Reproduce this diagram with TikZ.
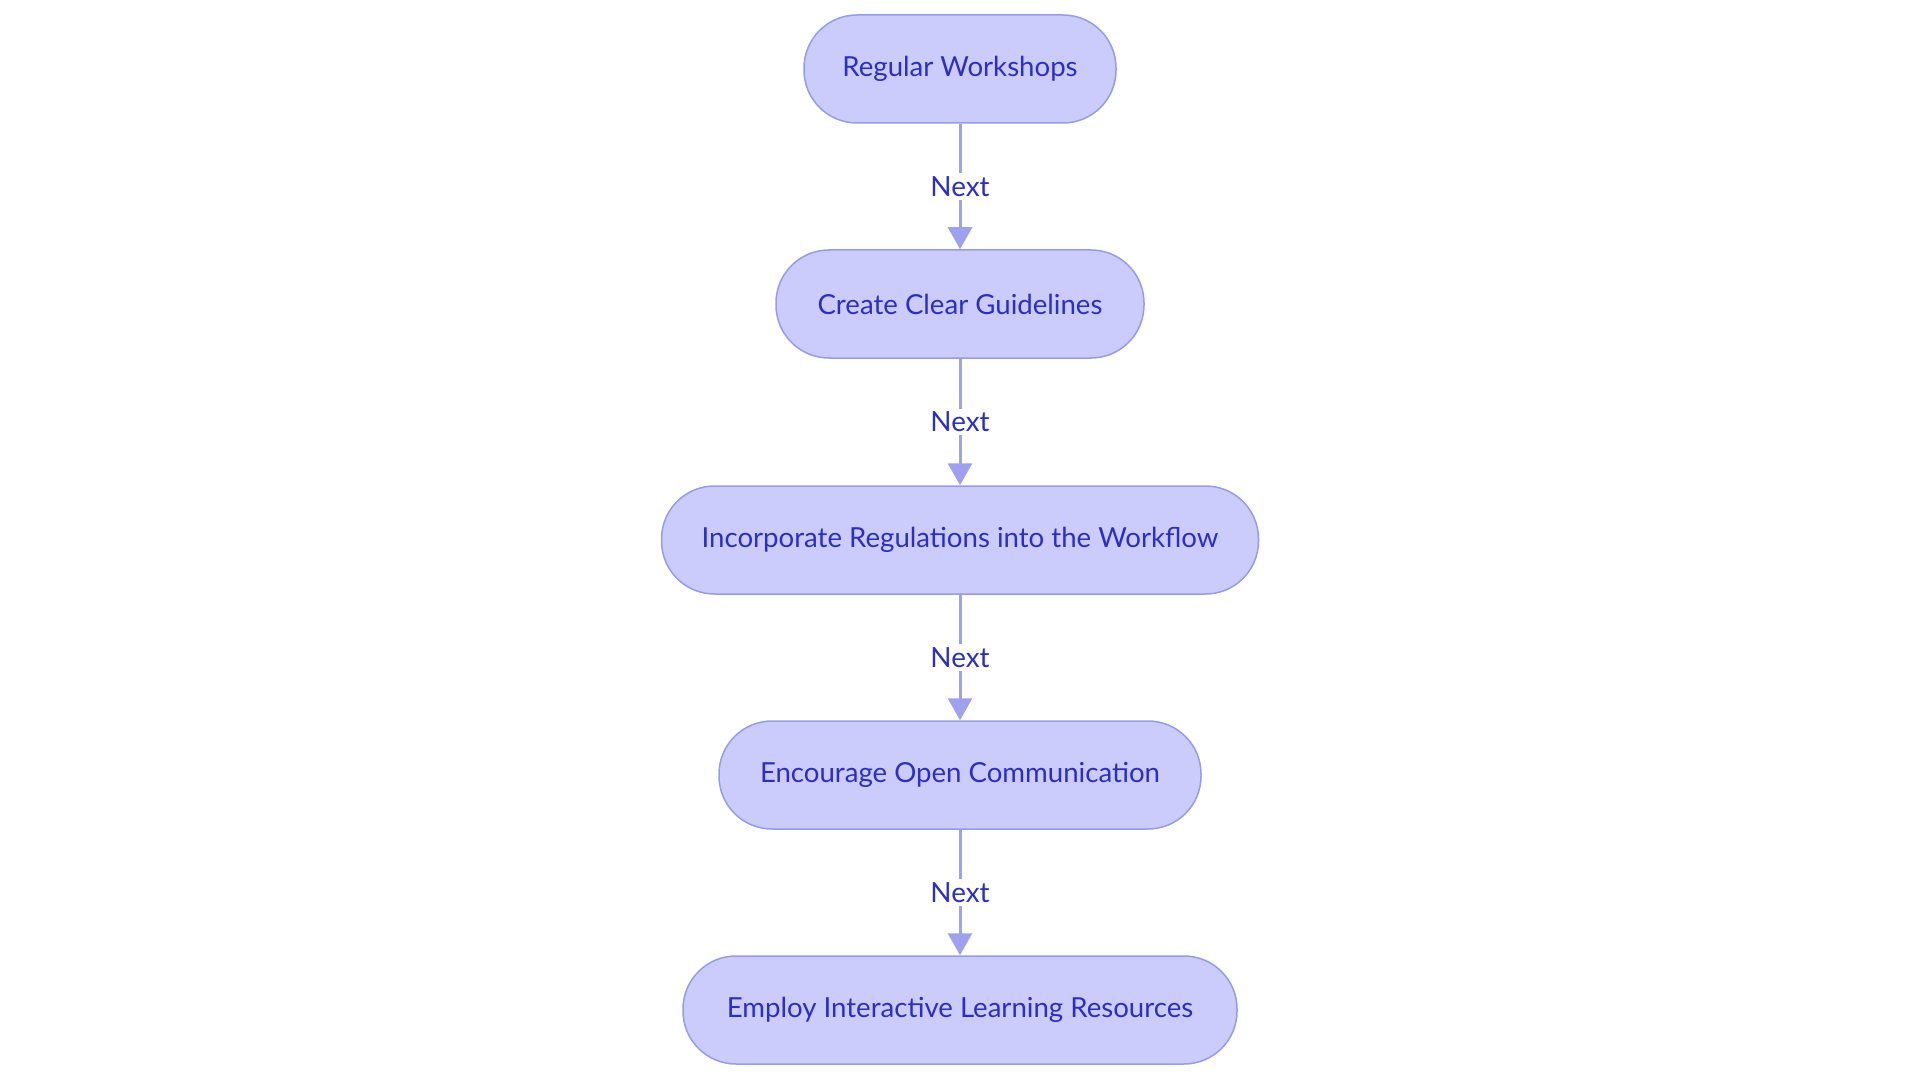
\documentclass[tikz,border=0pt]{standalone}
\usepackage{fontspec}
\setmainfont{Lato}
\usetikzlibrary{arrows.meta}
\definecolor{boxfill}{RGB}{203,204,252}
\definecolor{boxline}{RGB}{150,155,240}
\definecolor{txt}{RGB}{42,46,204}
\definecolor{arr}{RGB}{157,161,240}
\begin{document}
\begin{tikzpicture}[x=1pt,y=-1pt,
  stepbox/.style={draw=boxline,line width=1.5pt,fill=boxfill,rounded corners=53pt,
    minimum height=108pt,inner sep=0pt,text=txt,font=\fontsize{27.6}{33}\selectfont},
  flow/.style={draw=arr,line width=3pt,-{Triangle[width=24pt,length=22pt]}},
  lab/.style={fill=white,text=txt,font=\fontsize{27.8}{33}\selectfont,inner sep=3pt}]
\useasboundingbox (0,0) rectangle (1920,1083);
\node[stepbox,minimum width=312pt] (n1) at (960,69) {Regular Workshops};
\node[stepbox,minimum width=368pt] (n2) at (960,304) {Create Clear Guidelines};
\node[stepbox,minimum width=597pt] (n3) at (960,540) {Incorporate Regulations into the Workflow};
\node[stepbox,minimum width=482pt] (n4) at (960,775) {Encourage Open Communication};
\node[stepbox,minimum width=554pt] (n5) at (960,1010) {Employ Interactive Learning Resources};
\draw[flow] (n1) -- node[lab] {Next} (n2);
\draw[flow] (n2) -- node[lab] {Next} (n3);
\draw[flow] (n3) -- node[lab] {Next} (n4);
\draw[flow] (n4) -- node[lab] {Next} (n5);
\end{tikzpicture}
\end{document}
